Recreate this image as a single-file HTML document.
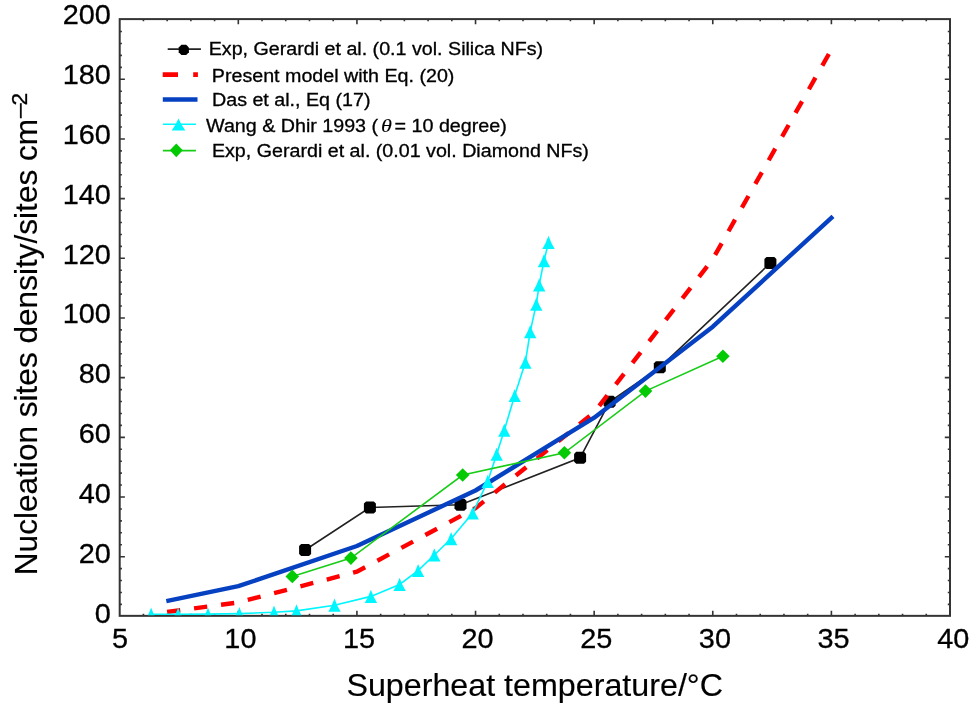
<!DOCTYPE html>
<html lang="en">
<head>
<meta charset="utf-8">
<title>Nucleation sites density vs superheat temperature</title>
<style>
html,body{margin:0;padding:0;background:#fff;}
body{width:969px;height:703px;overflow:hidden;}
svg{display:block;}
text{font-family:'Liberation Sans', Arial, Helvetica, sans-serif;fill:#000;stroke:#000;stroke-width:0.3px;}
</style>
</head>
<body>
<svg width="969" height="703" viewBox="0 0 969 703">
<rect x="0" y="0" width="969" height="703" fill="#ffffff"/>
<defs><clipPath id="plotclip"><rect x="119.7" y="19.1" width="830.3" height="596.25"/></clipPath></defs>
<rect x="119.7" y="19.1" width="830.30" height="596.75" fill="none" stroke="#343434" stroke-width="2"/>
<path d="M143.42,615.85v-2.2M143.42,19.1v2.2M167.15,615.85v-2.2M167.15,19.1v2.2M190.87,615.85v-2.2M190.87,19.1v2.2M214.59,615.85v-2.2M214.59,19.1v2.2M238.31,615.85v-5.2M238.31,19.1v5.2M262.04,615.85v-2.2M262.04,19.1v2.2M285.76,615.85v-2.2M285.76,19.1v2.2M309.48,615.85v-2.2M309.48,19.1v2.2M333.21,615.85v-2.2M333.21,19.1v2.2M356.93,615.85v-5.2M356.93,19.1v5.2M380.65,615.85v-2.2M380.65,19.1v2.2M404.37,615.85v-2.2M404.37,19.1v2.2M428.10,615.85v-2.2M428.10,19.1v2.2M451.82,615.85v-2.2M451.82,19.1v2.2M475.54,615.85v-5.2M475.54,19.1v5.2M499.27,615.85v-2.2M499.27,19.1v2.2M522.99,615.85v-2.2M522.99,19.1v2.2M546.71,615.85v-2.2M546.71,19.1v2.2M570.43,615.85v-2.2M570.43,19.1v2.2M594.16,615.85v-5.2M594.16,19.1v5.2M617.88,615.85v-2.2M617.88,19.1v2.2M641.60,615.85v-2.2M641.60,19.1v2.2M665.33,615.85v-2.2M665.33,19.1v2.2M689.05,615.85v-2.2M689.05,19.1v2.2M712.77,615.85v-5.2M712.77,19.1v5.2M736.49,615.85v-2.2M736.49,19.1v2.2M760.22,615.85v-2.2M760.22,19.1v2.2M783.94,615.85v-2.2M783.94,19.1v2.2M807.66,615.85v-2.2M807.66,19.1v2.2M831.39,615.85v-5.2M831.39,19.1v5.2M855.11,615.85v-2.2M855.11,19.1v2.2M878.83,615.85v-2.2M878.83,19.1v2.2M902.55,615.85v-2.2M902.55,19.1v2.2M926.28,615.85v-2.2M926.28,19.1v2.2M119.7,604.42h2.2M950.0,604.42h-2.2M119.7,592.48h2.2M950.0,592.48h-2.2M119.7,580.55h2.2M950.0,580.55h-2.2M119.7,568.61h2.2M950.0,568.61h-2.2M119.7,556.68h5.2M950.0,556.68h-5.2M119.7,544.74h2.2M950.0,544.74h-2.2M119.7,532.81h2.2M950.0,532.81h-2.2M119.7,520.87h2.2M950.0,520.87h-2.2M119.7,508.94h2.2M950.0,508.94h-2.2M119.7,497.00h5.2M950.0,497.00h-5.2M119.7,485.07h2.2M950.0,485.07h-2.2M119.7,473.13h2.2M950.0,473.13h-2.2M119.7,461.20h2.2M950.0,461.20h-2.2M119.7,449.26h2.2M950.0,449.26h-2.2M119.7,437.33h5.2M950.0,437.33h-5.2M119.7,425.39h2.2M950.0,425.39h-2.2M119.7,413.46h2.2M950.0,413.46h-2.2M119.7,401.52h2.2M950.0,401.52h-2.2M119.7,389.59h2.2M950.0,389.59h-2.2M119.7,377.65h5.2M950.0,377.65h-5.2M119.7,365.72h2.2M950.0,365.72h-2.2M119.7,353.78h2.2M950.0,353.78h-2.2M119.7,341.85h2.2M950.0,341.85h-2.2M119.7,329.91h2.2M950.0,329.91h-2.2M119.7,317.98h5.2M950.0,317.98h-5.2M119.7,306.04h2.2M950.0,306.04h-2.2M119.7,294.11h2.2M950.0,294.11h-2.2M119.7,282.17h2.2M950.0,282.17h-2.2M119.7,270.24h2.2M950.0,270.24h-2.2M119.7,258.30h5.2M950.0,258.30h-5.2M119.7,246.37h2.2M950.0,246.37h-2.2M119.7,234.43h2.2M950.0,234.43h-2.2M119.7,222.50h2.2M950.0,222.50h-2.2M119.7,210.56h2.2M950.0,210.56h-2.2M119.7,198.62h5.2M950.0,198.62h-5.2M119.7,186.69h2.2M950.0,186.69h-2.2M119.7,174.75h2.2M950.0,174.75h-2.2M119.7,162.82h2.2M950.0,162.82h-2.2M119.7,150.88h2.2M950.0,150.88h-2.2M119.7,138.95h5.2M950.0,138.95h-5.2M119.7,127.01h2.2M950.0,127.01h-2.2M119.7,115.08h2.2M950.0,115.08h-2.2M119.7,103.14h2.2M950.0,103.14h-2.2M119.7,91.21h2.2M950.0,91.21h-2.2M119.7,79.27h5.2M950.0,79.27h-5.2M119.7,67.34h2.2M950.0,67.34h-2.2M119.7,55.40h2.2M950.0,55.40h-2.2M119.7,43.47h2.2M950.0,43.47h-2.2M119.7,31.53h2.2M950.0,31.53h-2.2" fill="none" stroke="#343434" stroke-width="1.6"/>
<g clip-path="url(#plotclip)">
<polyline points="305.1,550.0 369.9,507.5 460.5,504.7 580.1,457.8 609.6,401.8 659.8,367.3 770.4,263.0" fill="none" stroke="#222" stroke-width="1.6"/>
<polygon points="301.2,544.0 309.0,544.0 311.1,546.1 311.1,553.9 309.0,556.0 301.2,556.0 299.1,553.9 299.1,546.1" fill="#000"/>
<polygon points="366.0,501.5 373.8,501.5 375.9,503.6 375.9,511.4 373.8,513.5 366.0,513.5 363.9,511.4 363.9,503.6" fill="#000"/>
<polygon points="456.6,498.7 464.4,498.7 466.5,500.8 466.5,508.6 464.4,510.7 456.6,510.7 454.5,508.6 454.5,500.8" fill="#000"/>
<polygon points="576.2,451.8 584.0,451.8 586.1,453.9 586.1,461.7 584.0,463.8 576.2,463.8 574.1,461.7 574.1,453.9" fill="#000"/>
<polygon points="605.7,395.8 613.5,395.8 615.6,397.9 615.6,405.7 613.5,407.8 605.7,407.8 603.6,405.7 603.6,397.9" fill="#000"/>
<polygon points="655.9,361.3 663.7,361.3 665.8,363.4 665.8,371.2 663.7,373.3 655.9,373.3 653.8,371.2 653.8,363.4" fill="#000"/>
<polygon points="766.5,257.0 774.3,257.0 776.4,259.1 776.4,266.9 774.3,269.0 766.5,269.0 764.4,266.9 764.4,259.1" fill="#000"/>
<polyline points="167.1,612.0 238.3,602.4 356.9,571.7 475.5,508.1 594.2,412.4 712.8,259.0 831.4,49.5" fill="none" stroke="#ff0000" stroke-width="4.4" stroke-dasharray="13.3 13.9"/>
<polyline points="166.3,601.1 238.3,586.2 356.9,546.0 475.5,490.5 594.2,417.7 712.8,326.7 833.0,216.3" fill="none" stroke="#0641c2" stroke-width="4.4" stroke-linejoin="round"/>
<polyline points="151.1,614.2 178.1,614.2 208.0,614.1 239.4,613.6 274.0,612.3 296.5,610.9 334.5,605.2 370.9,596.4 399.6,584.5 418.1,570.6 434.3,555.0 451.1,538.7 472.7,513.0 487.7,481.4 496.7,454.3 504.3,430.2 514.7,395.6 525.4,362.3 530.2,331.7 536.3,304.2 539.2,284.9 544.0,260.7 548.5,242.5" fill="none" stroke="#00f6ff" stroke-width="1.6"/>
<path d="M151.1,607.5Q153.7,615.0 157.3,620.7H144.9Q148.5,615.0 151.1,607.5Z" fill="#00f6ff"/>
<path d="M178.1,607.5Q180.7,615.0 184.3,620.7H171.9Q175.5,615.0 178.1,607.5Z" fill="#00f6ff"/>
<path d="M208.0,607.4Q210.6,614.9 214.2,620.6H201.8Q205.4,614.9 208.0,607.4Z" fill="#00f6ff"/>
<path d="M239.4,606.9Q242.0,614.4 245.6,620.1H233.2Q236.8,614.4 239.4,606.9Z" fill="#00f6ff"/>
<path d="M274.0,605.6Q276.6,613.1 280.2,618.8H267.8Q271.4,613.1 274.0,605.6Z" fill="#00f6ff"/>
<path d="M296.5,604.2Q299.1,611.7 302.7,617.4H290.3Q293.9,611.7 296.5,604.2Z" fill="#00f6ff"/>
<path d="M334.5,598.5Q337.1,606.0 340.7,611.7H328.3Q331.9,606.0 334.5,598.5Z" fill="#00f6ff"/>
<path d="M370.9,589.7Q373.5,597.2 377.1,602.9H364.7Q368.3,597.2 370.9,589.7Z" fill="#00f6ff"/>
<path d="M399.6,577.8Q402.2,585.3 405.8,591.0H393.4Q397.0,585.3 399.6,577.8Z" fill="#00f6ff"/>
<path d="M418.1,563.9Q420.7,571.4 424.3,577.1H411.9Q415.5,571.4 418.1,563.9Z" fill="#00f6ff"/>
<path d="M434.3,548.3Q436.9,555.8 440.5,561.5H428.1Q431.7,555.8 434.3,548.3Z" fill="#00f6ff"/>
<path d="M451.1,532.0Q453.7,539.5 457.3,545.2H444.9Q448.5,539.5 451.1,532.0Z" fill="#00f6ff"/>
<path d="M472.7,506.3Q475.3,513.8 478.9,519.5H466.5Q470.1,513.8 472.7,506.3Z" fill="#00f6ff"/>
<path d="M487.7,474.7Q490.3,482.2 493.9,487.9H481.5Q485.1,482.2 487.7,474.7Z" fill="#00f6ff"/>
<path d="M496.7,447.6Q499.3,455.1 502.9,460.8H490.5Q494.1,455.1 496.7,447.6Z" fill="#00f6ff"/>
<path d="M504.3,423.5Q506.9,431.0 510.5,436.7H498.1Q501.7,431.0 504.3,423.5Z" fill="#00f6ff"/>
<path d="M514.7,388.9Q517.3,396.4 520.9,402.1H508.5Q512.1,396.4 514.7,388.9Z" fill="#00f6ff"/>
<path d="M525.4,355.6Q528.0,363.1 531.6,368.8H519.2Q522.8,363.1 525.4,355.6Z" fill="#00f6ff"/>
<path d="M530.2,325.0Q532.8,332.5 536.4,338.2H524.0Q527.6,332.5 530.2,325.0Z" fill="#00f6ff"/>
<path d="M536.3,297.5Q538.9,305.0 542.5,310.7H530.1Q533.7,305.0 536.3,297.5Z" fill="#00f6ff"/>
<path d="M539.2,278.2Q541.8,285.7 545.4,291.4H533.0Q536.6,285.7 539.2,278.2Z" fill="#00f6ff"/>
<path d="M544.0,254.0Q546.6,261.5 550.2,267.2H537.8Q541.4,261.5 544.0,254.0Z" fill="#00f6ff"/>
<path d="M548.5,235.8Q551.1,243.3 554.7,249.0H542.3Q545.9,243.3 548.5,235.8Z" fill="#00f6ff"/>
<polyline points="292.3,576.4 350.9,558.1 462.7,475.0 564.4,452.8 645.5,391.1 722.9,356.3" fill="none" stroke="#18cc18" stroke-width="1.6"/>
<polygon points="292.3,569.6 299.1,576.4 292.3,583.2 285.5,576.4" fill="#04ca04"/>
<polygon points="350.9,551.3 357.7,558.1 350.9,564.9 344.1,558.1" fill="#04ca04"/>
<polygon points="462.7,468.2 469.5,475.0 462.7,481.8 455.9,475.0" fill="#04ca04"/>
<polygon points="564.4,446.0 571.2,452.8 564.4,459.6 557.6,452.8" fill="#04ca04"/>
<polygon points="645.5,384.3 652.3,391.1 645.5,397.9 638.7,391.1" fill="#04ca04"/>
<polygon points="722.9,349.5 729.7,356.3 722.9,363.1 716.1,356.3" fill="#04ca04"/>
</g>
<text transform="translate(110.9,622.9) scale(1.058,1)" font-size="27.3" text-anchor="end">0</text>
<text transform="translate(110.9,562.9) scale(1.058,1)" font-size="27.3" text-anchor="end">20</text>
<text transform="translate(110.9,502.9) scale(1.058,1)" font-size="27.3" text-anchor="end">40</text>
<text transform="translate(110.9,442.9) scale(1.058,1)" font-size="27.3" text-anchor="end">60</text>
<text transform="translate(110.9,382.9) scale(1.058,1)" font-size="27.3" text-anchor="end">80</text>
<text transform="translate(110.9,322.9) scale(1.058,1)" font-size="27.3" text-anchor="end">100</text>
<text transform="translate(110.9,264.1) scale(1.058,1)" font-size="27.3" text-anchor="end">120</text>
<text transform="translate(110.9,204.0) scale(1.058,1)" font-size="27.3" text-anchor="end">140</text>
<text transform="translate(110.9,143.9) scale(1.058,1)" font-size="27.3" text-anchor="end">160</text>
<text transform="translate(110.9,83.9) scale(1.058,1)" font-size="27.3" text-anchor="end">180</text>
<text transform="translate(110.9,23.9) scale(1.058,1)" font-size="27.3" text-anchor="end">200</text>
<text transform="translate(120.1,648.4) scale(1.058,1)" font-size="27.3" text-anchor="middle">5</text>
<text transform="translate(240.4,648.4) scale(1.058,1)" font-size="27.3" text-anchor="middle">10</text>
<text transform="translate(359.0,648.4) scale(1.058,1)" font-size="27.3" text-anchor="middle">15</text>
<text transform="translate(477.6,648.4) scale(1.058,1)" font-size="27.3" text-anchor="middle">20</text>
<text transform="translate(596.3,648.4) scale(1.058,1)" font-size="27.3" text-anchor="middle">25</text>
<text transform="translate(714.9,648.4) scale(1.058,1)" font-size="27.3" text-anchor="middle">30</text>
<text transform="translate(833.5,648.4) scale(1.058,1)" font-size="27.3" text-anchor="middle">35</text>
<text transform="translate(953.3,648.4) scale(1.058,1)" font-size="27.3" text-anchor="middle">40</text>
<text transform="translate(346.4,696.0) scale(1.027,1)" font-size="31.4" style="stroke-width:0.15px">Superheat temperature/°C</text>
<text transform="translate(37.4,575.2) rotate(-90) scale(1.006,1)" font-size="31.4" style="stroke-width:0.15px">Nucleation sites density/sites cm</text>
<text transform="translate(28.3,119.6) rotate(-90) scale(1.39,1)" font-size="21.5">−</text>
<text transform="translate(27.0,105.6) rotate(-90) scale(1.05,1)" font-size="21.8">2</text>
<line x1="167.7" y1="49.1" x2="200.9" y2="49.1" stroke="#222" stroke-width="1.6"/><polygon points="181.4,44.7 186.2,44.7 188.9,47.4 188.9,52.2 186.2,54.9 181.4,54.9 178.7,52.2 178.7,47.4" fill="#000"/>
<text transform="translate(208.7,54.6) scale(1.087,1)" font-size="18.1">Exp, Gerardi et al. (0.1 vol. Silica NFs)</text>
<path d="M162.7,74.6h15.3M193.2,74.6h4.7" stroke="#ff0000" stroke-width="4.6" fill="none"/>
<text transform="translate(211.8,81.5) scale(1.087,1)" font-size="18.1">Present model with Eq. (20)</text>
<path d="M162.8,99.5H197.5" stroke="#0641c2" stroke-width="4.6" fill="none"/>
<text transform="translate(212.0,106.4) scale(1.087,1)" font-size="18.1">Das et al., Eq (17)</text>
<line x1="162.9" y1="124.3" x2="195.9" y2="124.3" stroke="#00f6ff" stroke-width="1.6"/><path d="M178.5,118.4Q181.4,125.1 185.3,130.4H171.7Q175.6,125.1 178.5,118.4Z" fill="#00f6ff"/>
<text transform="translate(206.1,132.2) scale(1.087,1)" font-size="18.1">Wang &amp; Dhir 1993 (</text>
<text transform="translate(380.9,132.2) scale(1.14,1)" font-family="'Liberation Serif', serif" font-style="italic" font-size="19.5" style="font-family:'Liberation Serif',serif;stroke-width:0.1px">θ</text>
<text transform="translate(394.5,132.2) scale(1.09,1)" font-size="18.1">= 10 degree)</text>
<line x1="162.9" y1="150.6" x2="195.9" y2="150.6" stroke="#18cc18" stroke-width="1.6"/><polygon points="176.3,143.4 182.8,150.3 176.3,157.2 169.8,150.3" fill="#04ca04"/>
<text transform="translate(211.9,157.3) scale(1.087,1)" font-size="18.1">Exp, Gerardi et al. (0.01 vol. Diamond NFs)</text>
</svg>
</body>
</html>
